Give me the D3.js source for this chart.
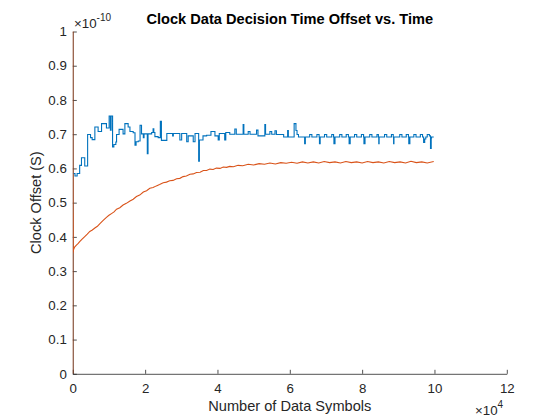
<!DOCTYPE html>
<html>
<head>
<meta charset="utf-8">
<script src="https://cdn.jsdelivr.net/npm/d3@7"></script>
<style>
  body { margin: 0; background: #fff; }
  svg { font-family: "Liberation Sans", Arial, sans-serif; }
</style>
</head>
<body>
<div id="chart"></div>
<script>
// x in data symbols, y in units of 1e-10 s
const xTicks = [0, 20000, 40000, 60000, 80000, 100000, 120000];
const yTicks = [0, 0.1, 0.2, 0.3, 0.4, 0.5, 0.6, 0.7, 0.8, 0.9, 1];

// blue series: step changes [symbol, offset]
const blueSteps = [
  [0, 0.585], [600, 0.578], [1200, 0.585], [1900, 0.609], [2400, 0.631],
  [3300, 0.607], [4100, 0.699], [4900, 0.690], [5350, 0.684], [6100, 0.721],
  [7000, 0.708], [7950, 0.731], [9300, 0.718], [10050, 0.753], [10400, 0.712],
  [10600, 0.753], [11000, 0.663], [11350, 0.670], [11900, 0.677], [12100, 0.699],
  [12800, 0.714], [13900, 0.701], [14400, 0.731], [15300, 0.721], [15800, 0.708],
  [16700, 0.704], [17200, 0.668], [17500, 0.678], [18100, 0.680], [18600, 0.726],
  [19000, 0.701], [19500, 0.690], [19700, 0.701], [20600, 0.643], [20800, 0.701],
  [21800, 0.705], [22200, 0.716], [22400, 0.705], [22700, 0.693], [23600, 0.690],
  [24200, 0.738], [24500, 0.682], [26000, 0.702], [27600, 0.695], [27800, 0.702],
  [29600, 0.683], [30100, 0.702], [31500, 0.678], [31900, 0.695], [33300, 0.678],
  [33800, 0.702], [34800, 0.621], [35000, 0.683], [36000, 0.695], [37000, 0.697],
  [38200, 0.708], [39300, 0.695], [40200, 0.683], [40500, 0.702], [42000, 0.683],
  [42300, 0.705], [43400, 0.700], [44800, 0.715], [45200, 0.700], [47100, 0.728],
  [47300, 0.700], [48500, 0.708], [49000, 0.700], [50800, 0.712], [51200, 0.695],
  [53100, 0.728], [53300, 0.700], [54500, 0.708], [55000, 0.700], [55900, 0.710],
  [56300, 0.699], [58300, 0.692], [59400, 0.711], [59600, 0.692], [61200, 0.731],
  [61700, 0.711], [62000, 0.699], [62400, 0.692], [64100, 0.672], [64300, 0.692],
  [65500, 0.699], [66100, 0.692], [67500, 0.699], [68100, 0.692], [68200, 0.672],
  [68400, 0.692], [69600, 0.699], [70200, 0.692], [71600, 0.699], [72100, 0.692],
  [72200, 0.672], [72500, 0.692], [73800, 0.699], [74400, 0.692], [75600, 0.699],
  [76200, 0.692], [76400, 0.672], [76700, 0.692], [77900, 0.699], [78500, 0.692],
  [79800, 0.699], [80400, 0.692], [80500, 0.672], [80800, 0.692], [82100, 0.699],
  [82700, 0.692], [84100, 0.699], [84500, 0.692], [84600, 0.672], [84700, 0.692],
  [86200, 0.699], [86800, 0.692], [88100, 0.699], [88600, 0.692], [88700, 0.672],
  [88800, 0.692], [90400, 0.699], [91000, 0.692], [92200, 0.699], [92800, 0.692],
  [92900, 0.672], [93200, 0.692], [94300, 0.699], [94900, 0.692], [96100, 0.699],
  [96700, 0.692], [97000, 0.676], [97300, 0.686], [97600, 0.692], [98000, 0.699],
  [98600, 0.695], [98900, 0.658], [99100, 0.689], [99200, 0.692], [99800, 0.692]
];

// orange series [symbol, offset]
const orangePoints = [
  [0, 0], [5, 1.3], [15, 0.612], [30, 0.35], [50, 0.585], [70, 0.352], [90, 0.47],
  [120, 0.355], [200, 0.362], [500, 0.370], [1000, 0.376], [1500, 0.381],
  [1900, 0.386], [2500, 0.393], [3300, 0.401], [4000, 0.408], [4700, 0.416],
  [5400, 0.420], [6100, 0.426], [6800, 0.431], [7500, 0.439], [8400, 0.448],
  [9300, 0.457], [10000, 0.463], [10700, 0.468], [11400, 0.473], [12100, 0.481],
  [13000, 0.485], [13900, 0.493], [14800, 0.498], [15800, 0.505], [16700, 0.510],
  [17600, 0.518], [18500, 0.522], [19500, 0.531], [20400, 0.535], [21300, 0.542],
  [22200, 0.544], [23100, 0.549], [24000, 0.553], [25000, 0.558], [25900, 0.560],
  [26800, 0.564], [27700, 0.565], [28700, 0.570], [29600, 0.571], [30500, 0.576],
  [31400, 0.578], [32400, 0.583], [33300, 0.584], [34200, 0.588], [35200, 0.589],
  [36100, 0.594], [37000, 0.594], [37900, 0.598], [38800, 0.597], [39700, 0.601],
  [40700, 0.600], [41600, 0.604], [42500, 0.603], [43400, 0.606], [44400, 0.605],
  [45700, 0.609], [47000, 0.608], [48500, 0.612], [50000, 0.610], [51500, 0.614],
  [53000, 0.612], [54500, 0.616], [56000, 0.613], [57500, 0.617], [59000, 0.615],
  [60500, 0.618], [62000, 0.615], [63500, 0.619], [65000, 0.616], [66500, 0.619],
  [68000, 0.616], [69500, 0.620], [71000, 0.617], [72500, 0.619], [74000, 0.616],
  [75500, 0.620], [77000, 0.617], [78500, 0.619], [80000, 0.616], [81500, 0.620],
  [83000, 0.617], [84500, 0.619], [86000, 0.616], [87500, 0.620], [89000, 0.617],
  [90500, 0.619], [92000, 0.616], [93500, 0.621], [95000, 0.617], [96500, 0.619],
  [98000, 0.616], [99800, 0.620]
];

const W = 560, H = 420;
const margin = { top: 31.5, right: 53.2, bottom: 46.2, left: 72.8 };
const width = W - margin.left - margin.right;
const height = H - margin.top - margin.bottom;
const axisColor = "#262626";

const svg = d3.select("#chart").append("svg")
  .attr("width", W).attr("height", H);

const g = svg.append("g")
  .attr("transform", `translate(${margin.left},${margin.top})`);

const x = d3.scaleLinear().domain([0, 120000]).range([0, width]);
const y = d3.scaleLinear().domain([0, 1]).range([height, 0]);

// clip to axes box
svg.append("defs").append("clipPath").attr("id", "clip")
  .append("rect").attr("width", width).attr("height", height);

// ticks point inward like MATLAB
const xAxis = g.append("g")
  .attr("transform", `translate(0,${height})`)
  .call(d3.axisBottom(x).tickValues(xTicks).tickSizeInner(-4).tickSizeOuter(0)
    .tickPadding(10).tickFormat(d => d / 10000));

const yAxis = g.append("g")
  .call(d3.axisLeft(y).tickValues(yTicks).tickSizeInner(-4).tickSizeOuter(0)
    .tickPadding(6).tickFormat(d => d3.format("~g")(d)));

[xAxis, yAxis].forEach(a => {
  a.select(".domain").attr("stroke", axisColor).attr("stroke-width", 0.8);
  a.selectAll(".tick line").attr("stroke", axisColor).attr("stroke-width", 0.8);
  a.selectAll(".tick text").attr("fill", axisColor)
    .style("font-size", "13.3px").style("font-family", "Liberation Sans, Arial, sans-serif");
});

const plot = g.append("g").attr("clip-path", "url(#clip)");

plot.append("path")
  .datum(blueSteps)
  .attr("fill", "none")
  .attr("stroke", "#0072BD")
  .attr("stroke-width", 1.1)
  .attr("d", d3.line().x(d => x(d[0])).y(d => y(d[1])).curve(d3.curveStepAfter));

plot.append("path")
  .datum(orangePoints)
  .attr("fill", "none")
  .attr("stroke", "#D95319")
  .attr("stroke-width", 1.1)
  .attr("d", d3.line().x(d => x(d[0])).y(d => y(d[1])));

// title
svg.append("text")
  .attr("x", margin.left + width / 2).attr("y", 24)
  .attr("text-anchor", "middle")
  .style("font-size", "14.6px").style("font-weight", "bold")
  .attr("fill", "#000")
  .text("Clock Data Decision Time Offset vs. Time");

// axis labels
svg.append("text")
  .attr("x", margin.left + width / 2).attr("y", 411)
  .attr("text-anchor", "middle")
  .style("font-size", "14.6px").attr("fill", axisColor)
  .text("Number of Data Symbols");

svg.append("text")
  .attr("transform", `translate(40.5,${margin.top + height / 2}) rotate(-90)`)
  .attr("text-anchor", "middle")
  .style("font-size", "14.6px").attr("fill", axisColor)
  .text("Clock Offset (S)");

// exponent labels
const expTop = svg.append("text")
  .attr("x", 74).attr("y", 27.5)
  .style("font-size", "13.3px").attr("fill", axisColor);
expTop.append("tspan").text("\u00d7");
expTop.append("tspan").text("10");
expTop.append("tspan").attr("dy", -7).style("font-size", "10px").text("-10");

const expBot = svg.append("text")
  .attr("x", 475).attr("y", 415)
  .style("font-size", "13.3px").attr("fill", axisColor);
expBot.append("tspan").text("\u00d7");
expBot.append("tspan").text("10");
expBot.append("tspan").attr("dy", -7).style("font-size", "10px").text("4");
</script>
</body>
</html>
